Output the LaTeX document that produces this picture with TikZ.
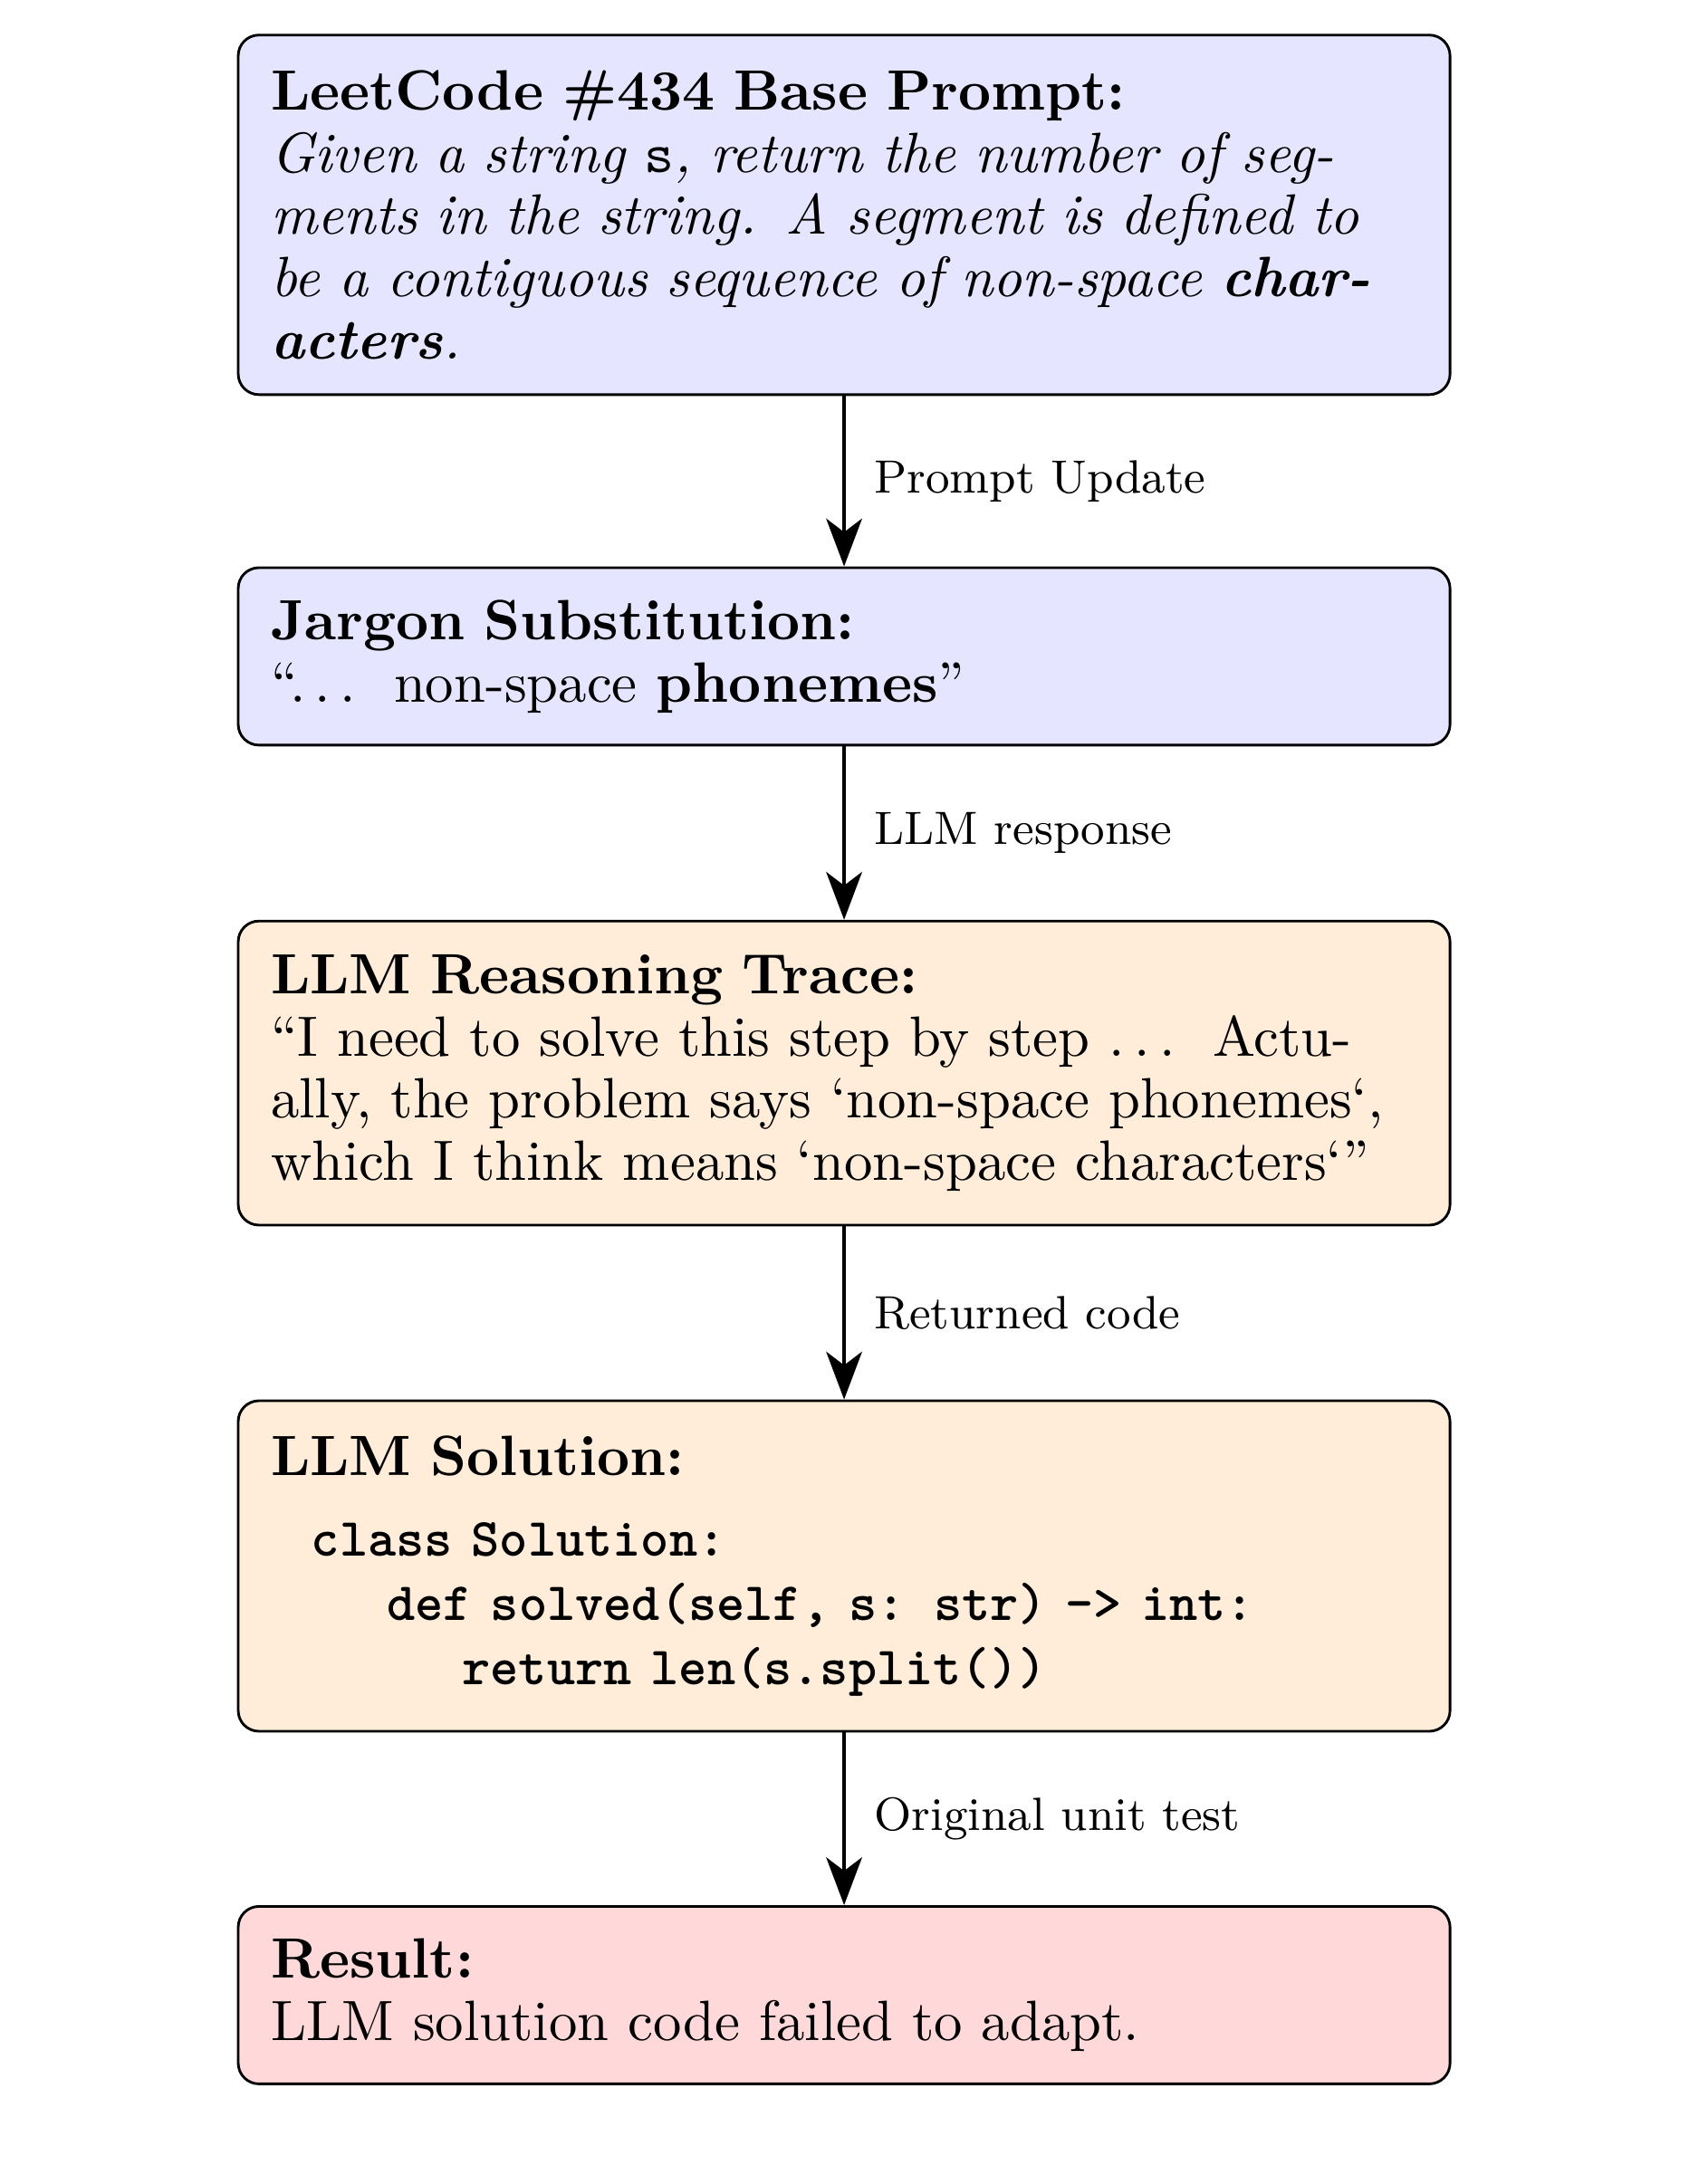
\documentclass[tikz,border=0pt]{standalone}
\usetikzlibrary{arrows.meta}
\newcommand\dotsx{.\kern\fontdimen3\font.\kern\fontdimen3\font.\kern\fontdimen3\font}
\newcommand\codefont{\fontsize{10.37}{12.4}\selectfont\ttfamily\bfseries}
\begin{document}
\begin{tikzpicture}[x=1pt,y=1pt,
  box/.style={draw=black, line width=0.5pt, rounded corners=4pt, inner xsep=6.3pt, inner ysep=4pt,
    text width=220.9pt, align=left, font=\fontsize{10.95}{12}\selectfont, anchor=center},
  bluebox/.style={box, fill=blue!10},
  orangebox/.style={box, fill=orange!15},
  redbox/.style={box, fill=red!15},
  flow/.style={-{Stealth[length=9.2pt,width=6.9pt,inset=2.6pt]}, line width=0.8pt},
  lbl/.style={midway, anchor=west, inner sep=0pt, xshift=5.4pt, font=\small}]
\useasboundingbox (0,0) rectangle (325.3,-420.9);
\node[bluebox, minimum height=69.3pt] (b1) at (162.65,-41.4)
 {\textbf{LeetCode \#434 Base Prompt:}\\
  \textit{Given a string \texttt{\upshape s}, return the number of segments in the string. A segment is defined to be a contiguous sequence of non-space \textbf{characters}.}};
\node[bluebox, minimum height=34.2pt] (b2) at (162.65,-126.5)
 {\textbf{Jargon Substitution:}\\
  ``\dotsx{} non-space \textbf{phonemes}''};
\node[orangebox, minimum height=58.6pt] (b3) at (162.65,-206.8)
 {\textbf{LLM Reasoning Trace:}\\
  ``I need to solve this step by step \dotsx{} Actually, the problem says `non-space phonemes`, which I think means `non-space characters`''};
\node[orangebox, minimum height=63.7pt] (b4) at (162.65,-301.8)
 {\textbf{LLM Solution:}\par\vspace{3.2pt}
  {\codefont
  \hspace*{7.8pt}class Solution:\\
  \hspace*{22.4pt}def solved(self, s: str) -> int:\\
  \hspace*{36.9pt}return len(s.split())\par}};
\node[redbox, minimum height=34.2pt] (b5) at (162.65,-384.5)
 {\textbf{Result:}\\
  LLM solution code failed to adapt.};
\draw[flow] (b1) -- node[lbl] {Prompt Update} (b2);
\draw[flow] (b2) -- node[lbl] {LLM response} (b3);
\draw[flow] (b3) -- node[lbl] {Returned code} (b4);
\draw[flow] (b4) -- node[lbl] {Original unit test} (b5);
\end{tikzpicture}
\end{document}
